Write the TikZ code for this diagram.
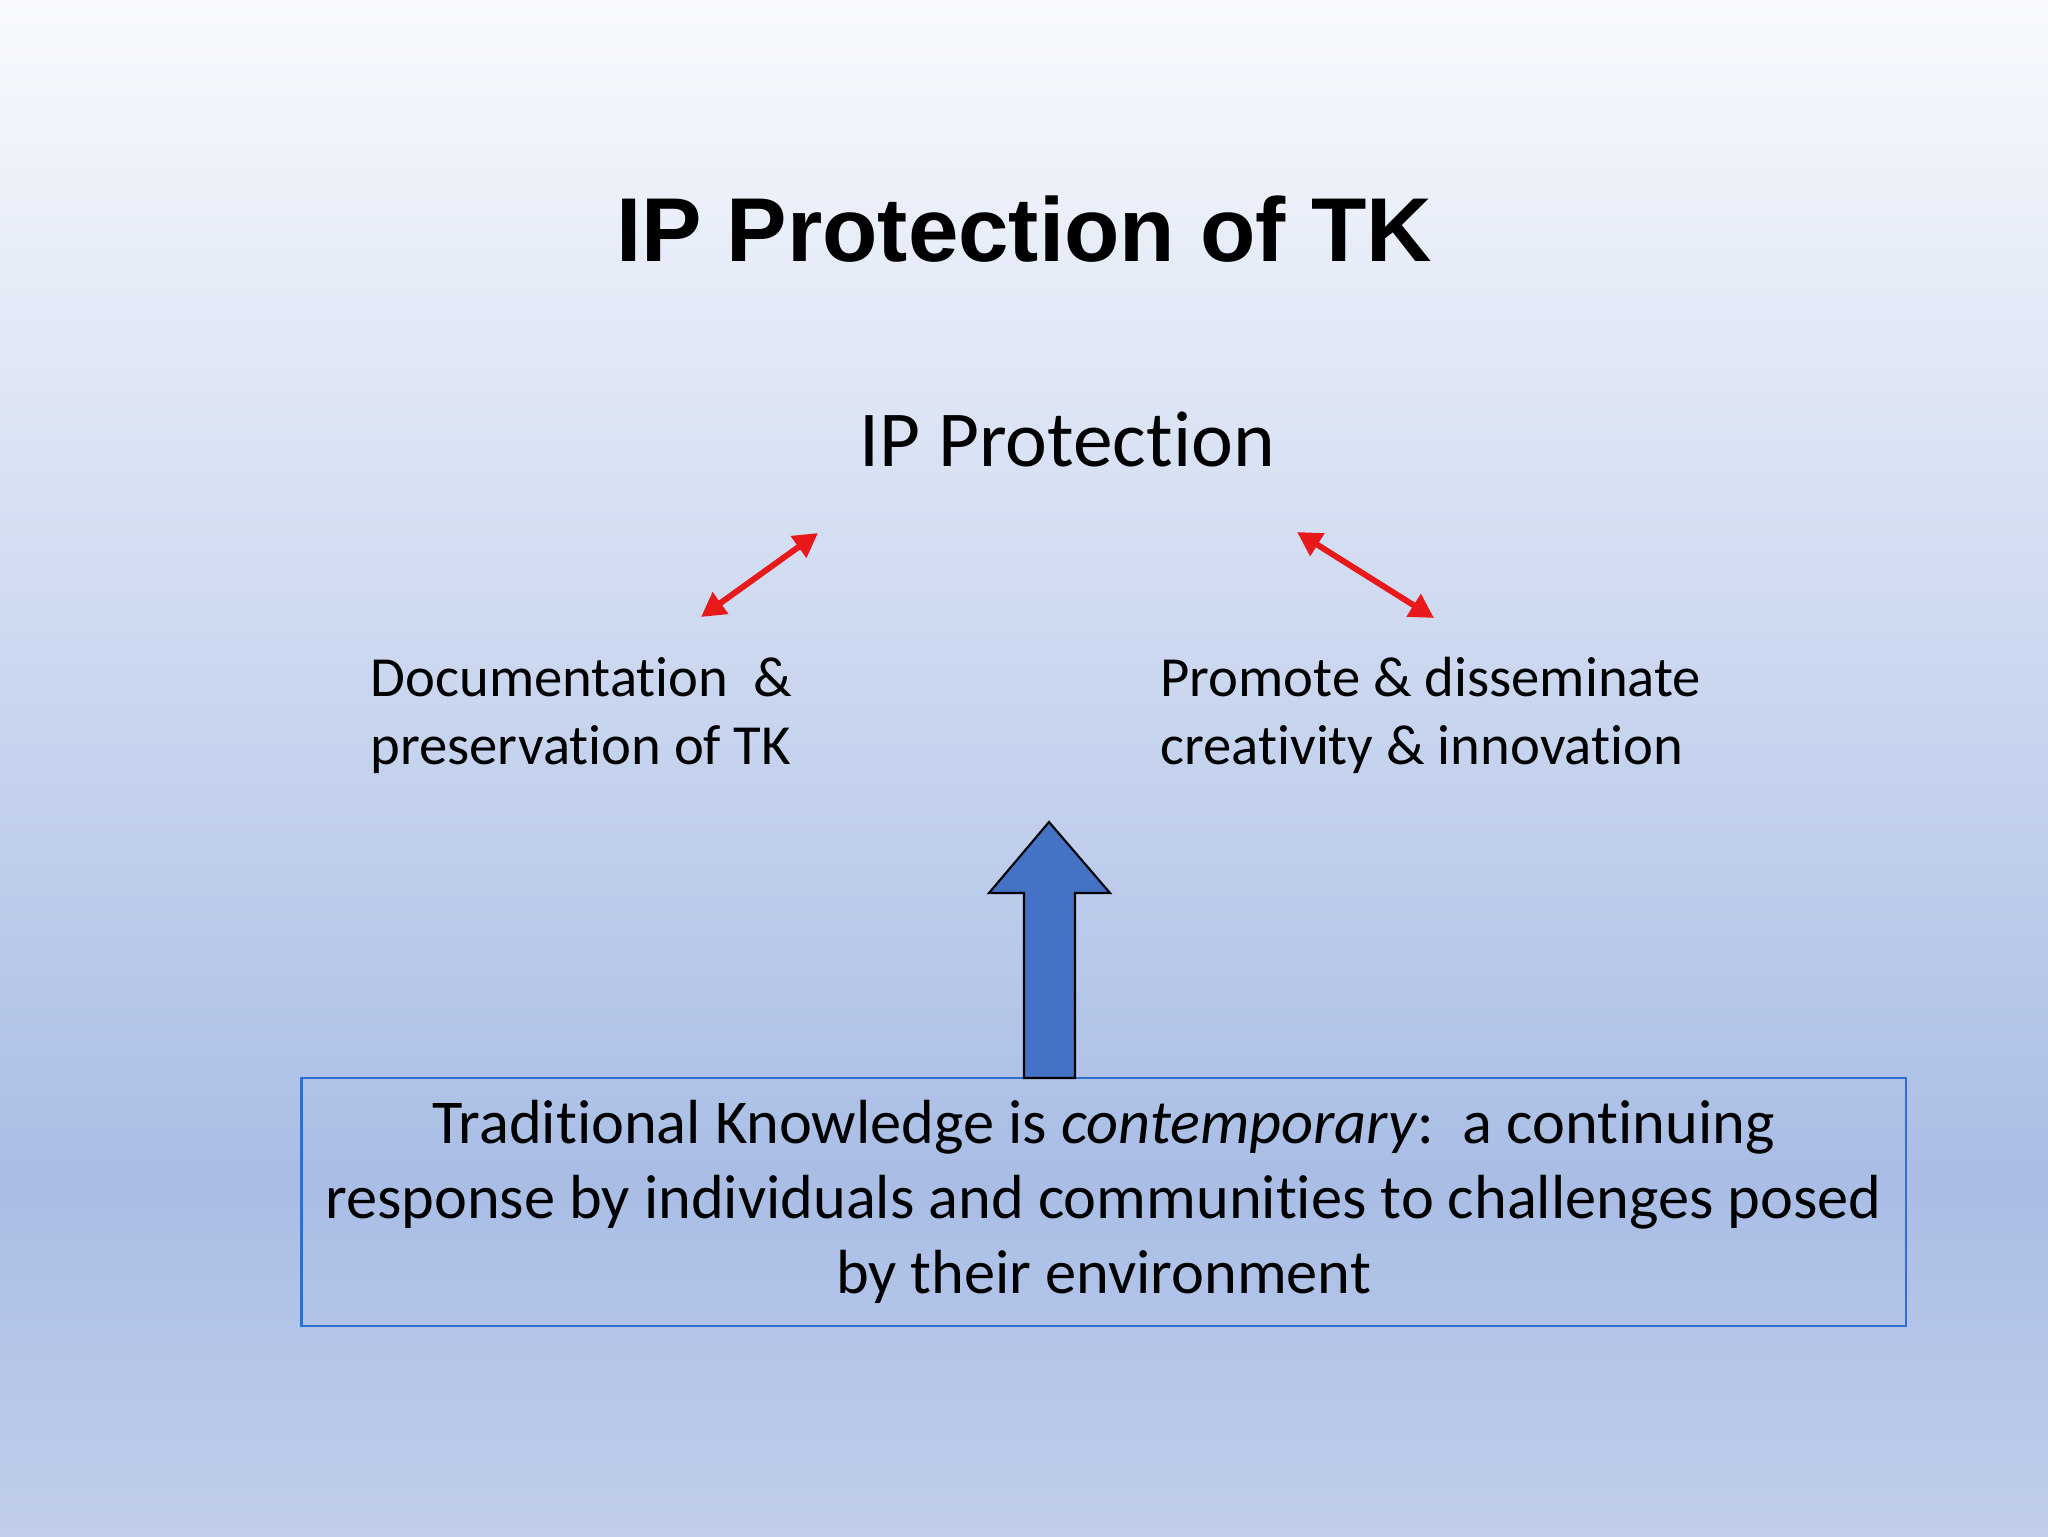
\documentclass[tikz,border=0pt]{standalone}
\usepackage{fontspec}
\setmainfont{Carlito}[Ligatures={NoCommon,NoContextual}]
\newfontfamily\headfont{Liberation Sans}
\usetikzlibrary{arrows.meta}

\definecolor{bgtop}{HTML}{F8FAFD}
\definecolor{bgmid}{HTML}{A9BDE5}
\definecolor{bgbot}{HTML}{C0CEEB}
\definecolor{arrowred}{HTML}{E8191B}
\definecolor{boxblue}{HTML}{2F6FCF}
\definecolor{blockblue}{HTML}{4472C4}

\begin{document}
\begin{tikzpicture}[x=0.0124023cm, y=-0.0124023cm,
    heading/.style={font=\headfont\bfseries\fontsize{32}{38}\selectfont, inner sep=0},
    topic/.style={font=\fontsize{28}{34}\selectfont, inner sep=0},
    branch/.style={font=\fontsize{20}{24}\selectfont, align=left, inner sep=0, anchor=base west},
    twoway/.style={{Triangle[length=8.5pt,width=9pt]}-{Triangle[length=8.5pt,width=9pt]}, draw=arrowred, line width=2.1pt},
    tkbox/.style={draw=boxblue, line width=0.9pt, minimum width=19.905cm, minimum height=3.076cm,
        align=center, font=\fontsize{22}{26.4}\selectfont},
    upblock/.style={fill=blockblue, draw=black, line width=0.75pt, line join=miter}]

% background
\shade[top color=bgtop, bottom color=bgmid] (0,0) rectangle (2048,1181);
\shade[top color=bgmid, bottom color=bgbot] (0,1180) rectangle (2048,1536);
\useasboundingbox (0,0) rectangle (2048,1536);

% headings
\node[heading, anchor=base] (title) at (1024,261) {IP Protection of TK};
\node[topic, anchor=base] (ipp) at (1067,466) {IP Protection};

% the two branches (base = last line)
\node[branch] (docu) at (370,764) {Documentation\ \ \&\\preservation of TK};
\node[branch] (promo) at (1160,764) {Promote \& disseminate\\creativity \& innovation};

\coordinate (docu-tip) at (701,617);
\coordinate (ipp-left) at (818,533);
\coordinate (ipp-right) at (1297,532);
\coordinate (promo-tip) at (1434,618);

\draw[twoway] (docu-tip) -- (ipp-left);
\draw[twoway] (ipp-right) -- (promo-tip);

% TK box and the arrow on it
\node[tkbox] (tk) at (1103.5,1202) {Traditional Knowledge is \textit{contemporary}:\ \ a continuing\\
    response by individuals and communities to challenges posed\\
    by their environment};

\draw[upblock] (1024,1078) -- (1024,893) -- (989,893) -- (1049,822) -- (1110,893)
    -- (1075,893) -- (1075,1078) -- cycle;
\end{tikzpicture}
\end{document}
